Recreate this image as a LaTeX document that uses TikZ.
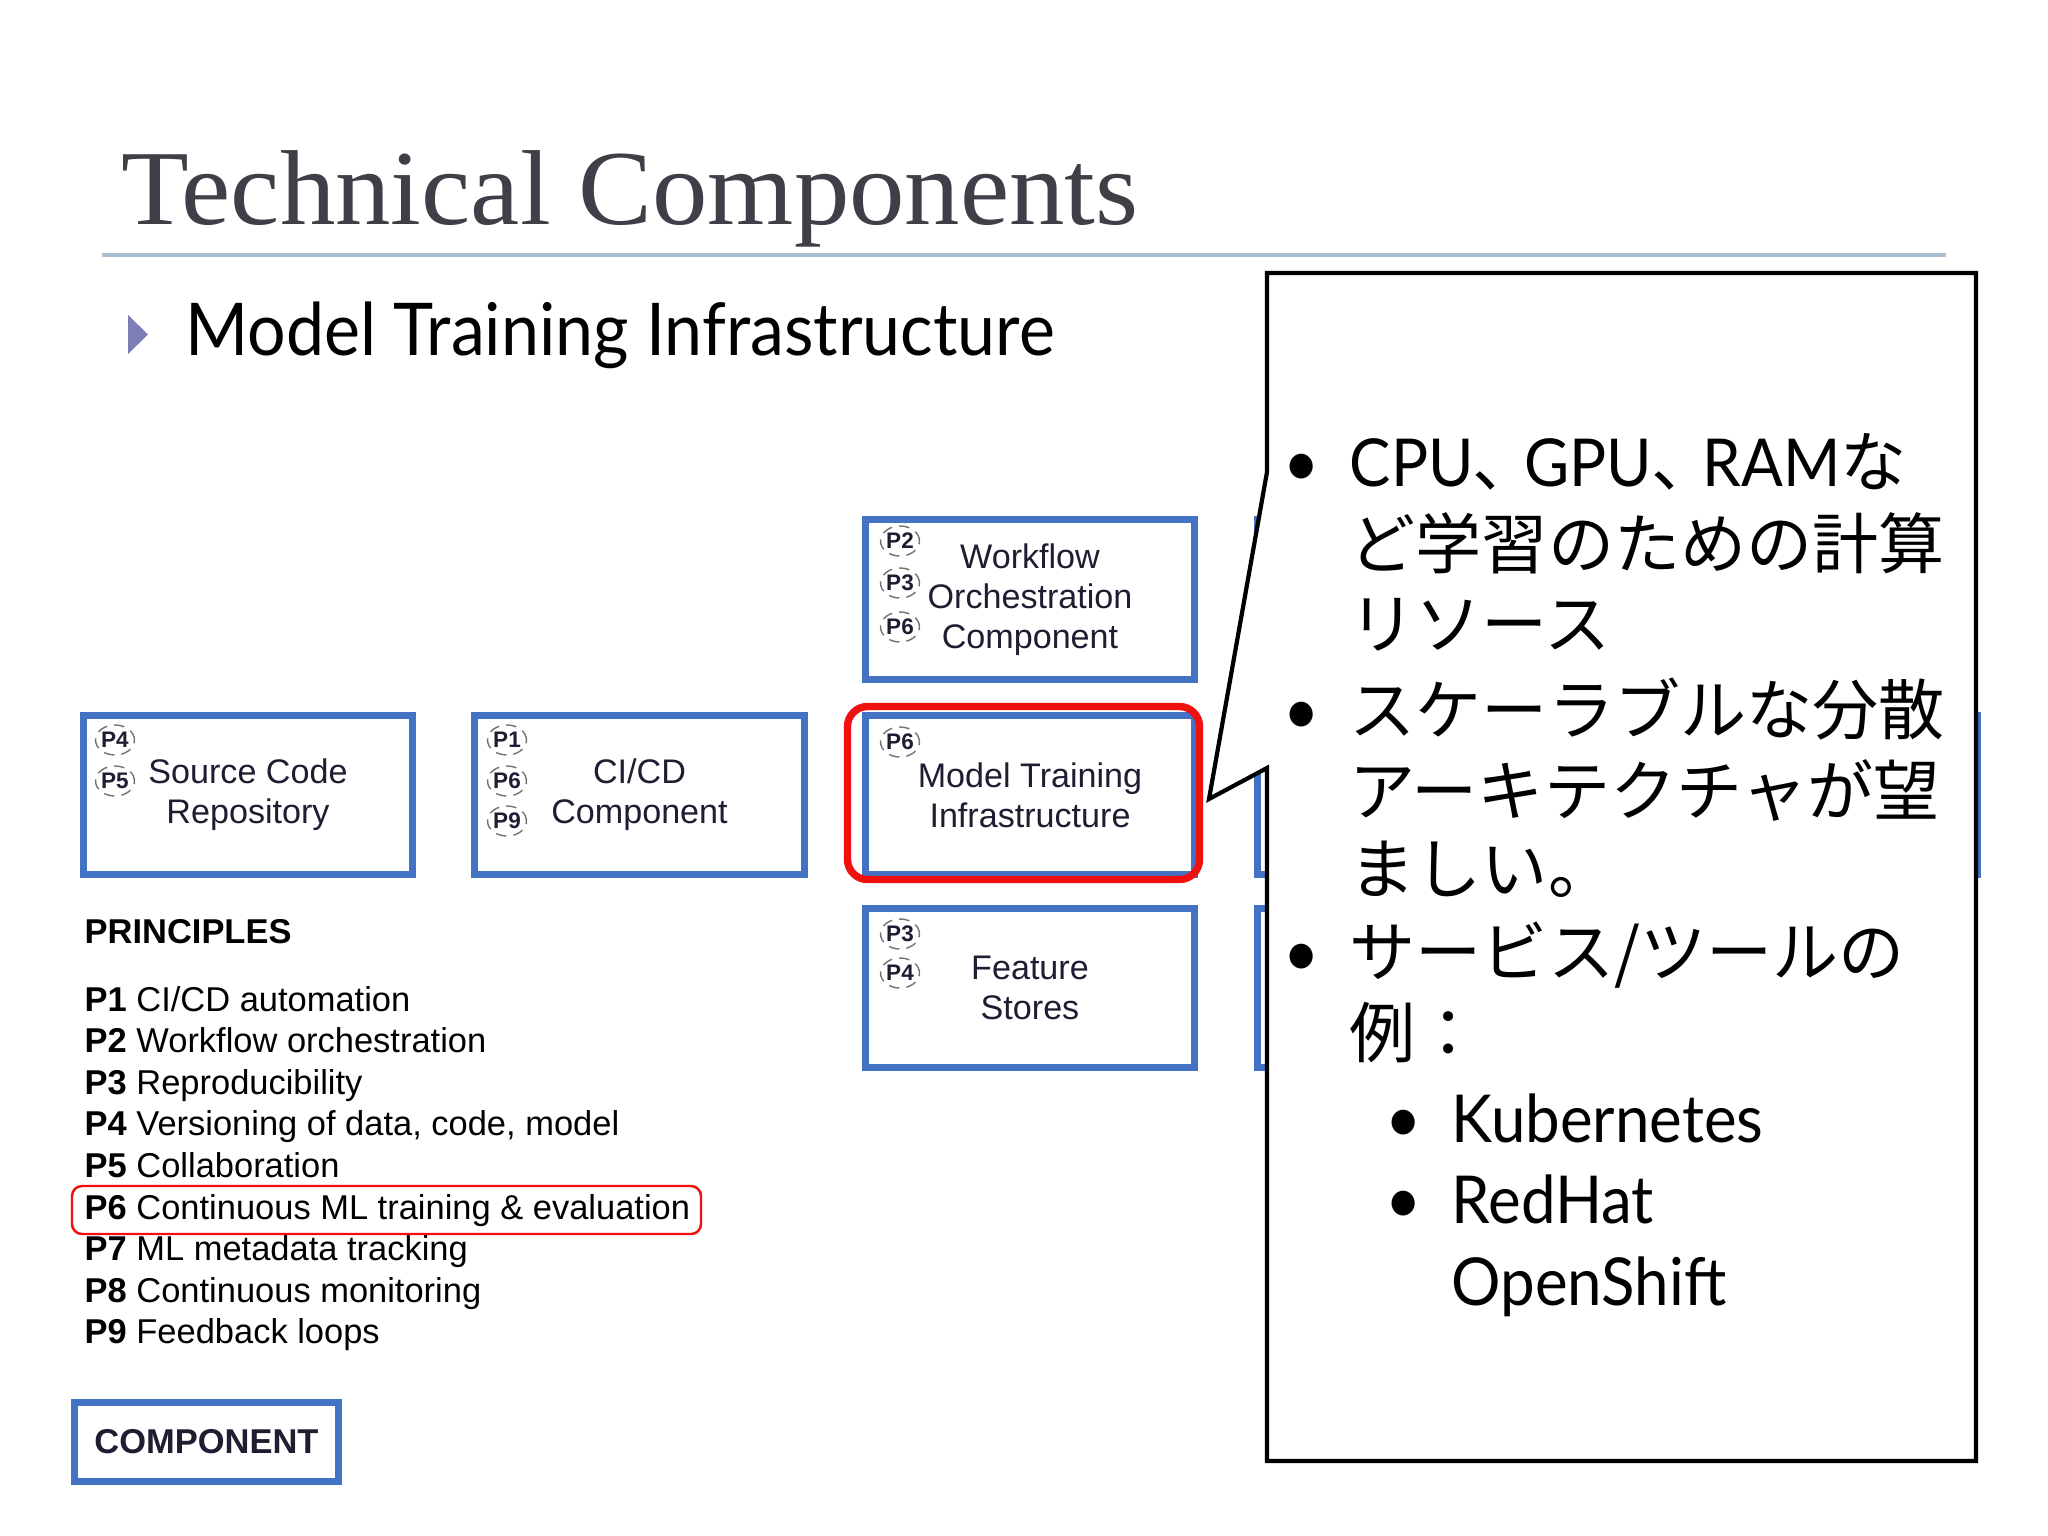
\documentclass[tikz,border=0pt]{standalone}
\usepackage{fontspec}
\setmainfont{Liberation Sans}
\newfontfamily\ttlfont[FakeStretch=1.04]{Liberation Serif}
\newfontfamily\gill[FakeStretch=0.935]{Lato}
\newfontfamily\cjk{Noto Sans CJK JP}
\newfontfamily\cjkp[RawFeature=+palt]{Noto Sans CJK JP}
\usetikzlibrary{shapes.geometric}
\definecolor{compblue}{HTML}{4472C4}
\definecolor{ttlgray}{HTML}{3F3F48}
\definecolor{rulecol}{HTML}{A9BCD0}
\definecolor{tribul}{HTML}{7B7FB3}
\definecolor{boxtext}{HTML}{1E1E32}
\definecolor{hired}{HTML}{F01010}
\newcommand\jcomma{{\cjkp 、}\hspace{5pt}}

\begin{document}
\begin{tikzpicture}
  [x=0.01cm,y=-0.01cm,
   comp/.style={draw=compblue,line width=2pt,fill=white,minimum width=3.29cm,
     minimum height=1.59cm,align=center,text=boxtext,font=\fontsize{9.7}{11.4}\selectfont},
   princ/.style={ellipse,draw=black!55,densely dashed,line width=0.4pt,fill=white,inner sep=0pt,
     minimum width=0.37cm,minimum height=0.3cm,text=boxtext,font=\bfseries\fontsize{6.4}{7}\selectfont},
   prline/.style={anchor=west,inner sep=0pt,text height=0.24cm,text depth=0pt,
     font=\fontsize{9.8}{11}\selectfont},
   cltext/.style={anchor=west,inner sep=0pt,text height=0.5cm,text depth=0pt,
     font=\cjk\fontsize{18.8}{22}\selectfont},
   clbul/.style={inner sep=0pt,text height=0.5cm,text depth=0pt,font=\gill\fontsize{19}{22}\selectfont}]
\useasboundingbox[fill=white] (0,0) rectangle (2048,1536);

% heading
\node[anchor=base west,inner sep=0pt,text=ttlgray,font=\ttlfont\fontsize{30.3}{36}\selectfont]
  (ttl) at (121,224) {Technical Components};
\draw[rulecol,line width=1.1pt] (102,255) -- (1946,255);
\fill[tribul] (128,315) -- (148,334.5) -- (128,354) -- cycle;
\node[anchor=base west,inner sep=0pt,font=\gill\fontsize{20.7}{24}\selectfont]
  (sub) at (185,355) {Model Training Infrastructure};

% components
\node[comp] (src) at (248,795) {Source Code\\Repository};
\node[comp] (cicd) at (639.5,795) {CI/CD\\Component};
\node[comp] (wfo) at (1030,599.5) {Workflow\\Orchestration\\Component};
\node[comp] (mti) at (1030,795) {Model Training\\Infrastructure};
\node[comp] (fst) at (1030,988) {Feature\\Stores};
\foreach \x/\y in {1422/599.5,1422/795,1422/988,1813/795}
  \node[comp] (h\x\y) at (\x,\y) {};

\foreach \n/\x/\y in {4/115/740,5/115/781,1/507/740,6/507/781,9/507/821,
    2/900/541,3/900/583,6/900/627,6/900/742,3/900/934,4/900/973}
  \node[princ] (c\x\y) at (\x,\y) {P\n};
\draw[hired,line width=2.1pt,rounded corners=0.2cm] (847.5,706.5) rectangle (1199.5,879.5);

% principles
\node[prline,font=\bfseries\fontsize{9.8}{11}\selectfont] (prh) at (84,931) {PRINCIPLES};
\foreach \t [count=\i] in {{CI/CD automation},{Workflow orchestration},Reproducibility,
    {Versioning of data, code, model},Collaboration,{Continuous ML training \& evaluation},
    {ML metadata tracking},{Continuous monitoring},{Feedback loops}}
  \node[prline] (pr\i) at (84,{999+41.6*(\i-1)}) {\textbf{P\i} \t};
\draw[hired,line width=0.7pt,rounded corners=0.1cm] (72,1186) rectangle (701,1234);

\node[comp,minimum width=2.64cm,minimum height=0.79cm,font=\bfseries\fontsize{9.8}{11}\selectfont]
  (leg) at (206.5,1442) {COMPONENT};

% callout
\draw[line width=1.2pt,fill=white] (1267,273) -- (1976,273) -- (1976,1461) -- (1267,1461)
  -- (1267,768) -- (1209,799) -- (1267,472) -- cycle;
\foreach \x/\y/\t [count=\i] in {1349/461/{{\gill CPU}\jcomma{\gill GPU}\jcomma{\gill RAM}な},
    1349/543/{ど学習のための計算},1349/623/{リソース},1349/709/{スケーラブルな分散},
    1349/790/{アーキテクチャが望},1349/868/{ましい。},1349/951/{サービス/ツールの},
    1349/1032/{例：},1451/1117/{\gill Kubernetes},1451/1198/{\gill RedHat},1451/1280/{\gill OpenShift}}
  \node[cltext] (cl\i) at (\x,\y) {\t};
\foreach \x/\y in {1302/461,1302/709,1302/951,1404/1117,1404/1198}
  \node[clbul] (b\x\y) at (\x,\y) {•};
\end{tikzpicture}
\end{document}
